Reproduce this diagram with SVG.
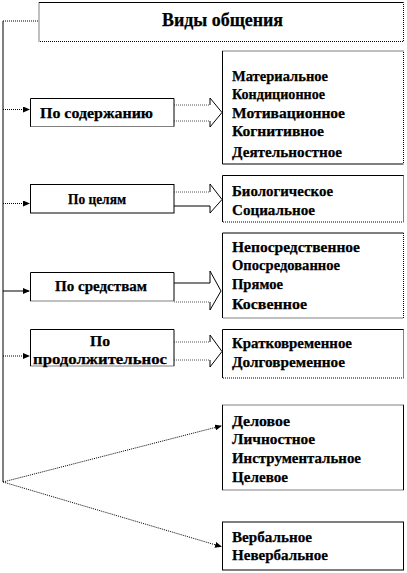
<svg xmlns="http://www.w3.org/2000/svg" width="407" height="573" viewBox="0 0 407 573">
<defs>
<style>
.bg{fill:#fff;stroke:none}
.s{fill:none;stroke:#000;stroke-width:1}
.d{fill:none;stroke:#000;stroke-width:1;stroke-dasharray:1,1}
.g{fill:none;stroke:#555;stroke-width:1;stroke-dasharray:1,1}
.t{font-family:"Liberation Serif","Times New Roman",serif;font-weight:bold;font-size:15px;fill:#000;stroke:#000;stroke-width:0.25}
.h{font-family:"Liberation Serif","Times New Roman",serif;font-weight:bold;font-size:18px;fill:#000;stroke:#000;stroke-width:0.25}
</style>
<marker id="ah" markerWidth="7" markerHeight="6" refX="6" refY="3" orient="auto" markerUnits="userSpaceOnUse">
<path d="M0,0 L7,3 L0,6 Z" fill="#000"/>
</marker>
</defs>
<rect width="407" height="573" fill="#fff"/>

<g id="connectors">
<path class="d" d="M3,21 H39"/>
<path class="s" d="M3,21 V482"/>
<path class="d" d="M3,109.5 H29" marker-end="url(#ah)"/>
<path class="d" d="M3,203.5 H29" marker-end="url(#ah)"/>
<path class="s" d="M3,291 H29" marker-end="url(#ah)"/>
<path class="d" d="M3,356 H29" marker-end="url(#ah)"/>
<path class="d" d="M3,482 L221,426" marker-end="url(#ah)"/>
<path class="d" d="M3,482 L221,546.5" marker-end="url(#ah)"/>
<g id="barrow1">
<polygon class="bg" points="174,105 210,105 210,98 222,112.5 210,127 210,121 174,121"/>
<path class="g" d="M174,105 H210 M174,121 H210"/>
<path class="s" d="M210,105 V98 L222,112.5 L210,127 V121"/>
</g>
<g id="barrow2">
<polygon class="bg" points="174,192 210,192 210,184 222,199.5 210,213 210,206 174,206"/>
<path class="g" d="M174,192 H210"/>
<path class="s" d="M174,206 H210 M210,192 V184 L222,199.5 L210,213 V206"/>
</g>
<g id="barrow3">
<polygon class="bg" points="174,283 210,283 210,271 221,291 210,310 210,302 174,302"/>
<path class="s" d="M174,283 H210 M210,283 V271 L221,291 L210,310 V302"/>
<path class="g" d="M174,302 H210"/>
</g>
<g id="barrow4">
<polygon class="bg" points="174,342 210,342 210,335 222,351.5 210,367 210,360 174,360"/>
<path class="g" d="M174,342 H210 M174,360 H210"/>
<path class="s" d="M210,342 V335 L222,351.5 L210,367 V360"/>
</g>
</g>

<g id="title">
<rect class="bg" x="39" y="2.5" width="364.5" height="39"/>
<path class="s" d="M39,2.5 H403.5"/>
<path class="d" d="M39,2.5 V41.5 H403.5 V2.5"/>
<text class="h" x="162" y="26" textLength="121" lengthAdjust="spacingAndGlyphs">Виды общения</text>
</g>

<g id="by-content">
<rect class="bg" x="30.5" y="98.5" width="143.5" height="28"/>
<path class="s" d="M30.5,126.5 V98.5 H174 V126.5"/>
<path class="d" d="M30.5,126.5 H174"/>
<text class="t" x="40" y="118" textLength="113" lengthAdjust="spacingAndGlyphs">По содержанию</text>
</g>

<g id="by-goals">
<rect class="s" style="fill:#fff" x="30.5" y="184.5" width="143.5" height="28.5"/>
<text class="t" x="68" y="204" textLength="58" lengthAdjust="spacingAndGlyphs">По целям</text>
</g>

<g id="by-means">
<rect class="bg" x="30.5" y="272.5" width="143.5" height="28.5"/>
<path class="s" d="M30.5,301 V272.5 H174 V301"/>
<path class="d" d="M30.5,301 H174"/>
<text class="t" x="55" y="290.5" textLength="92" lengthAdjust="spacingAndGlyphs">По средствам</text>
</g>

<g id="by-duration">
<rect class="bg" x="30.5" y="329.5" width="143.5" height="36.5"/>
<path class="s" d="M30.5,366 V329.5 H174 V366"/>
<path class="d" d="M30.5,366 H174"/>
<text class="t" x="90" y="346" textLength="20" lengthAdjust="spacingAndGlyphs">По</text>
<text class="t" x="33" y="363.5" textLength="134" lengthAdjust="spacingAndGlyphs">продолжительнос</text>
</g>

<g id="list-content">
<rect class="bg" x="222.5" y="51" width="181" height="113"/>
<path class="d" d="M222.5,51 H403.5 V164"/>
<path class="s" d="M222.5,51 V164 H403.5"/>
<text class="t" x="232" y="81" textLength="96" lengthAdjust="spacingAndGlyphs">Материальное</text>
<text class="t" x="232" y="99" textLength="93" lengthAdjust="spacingAndGlyphs">Кондиционное</text>
<text class="t" x="232" y="118" textLength="113" lengthAdjust="spacingAndGlyphs">Мотивационное</text>
<text class="t" x="232" y="136" textLength="92" lengthAdjust="spacingAndGlyphs">Когнитивное</text>
<text class="t" x="232" y="157" textLength="110" lengthAdjust="spacingAndGlyphs">Деятельностное</text>
</g>

<g id="list-goals">
<rect class="bg" x="222.5" y="175.5" width="181" height="46.5"/>
<path class="s" d="M222.5,222 V175.5 H403.5"/>
<path class="d" d="M403.5,175.5 V222 H222.5"/>
<text class="t" x="232" y="196" textLength="101" lengthAdjust="spacingAndGlyphs">Биологическое</text>
<text class="t" x="232" y="215" textLength="83" lengthAdjust="spacingAndGlyphs">Социальное</text>
</g>

<g id="list-means">
<rect class="bg" x="222.5" y="233" width="181" height="85"/>
<path class="s" d="M222.5,318 V233 H403.5"/>
<path class="d" d="M403.5,233 V318 H222.5"/>
<text class="t" x="232" y="251.5" textLength="128" lengthAdjust="spacingAndGlyphs">Непосредственное</text>
<text class="t" x="232" y="270" textLength="108" lengthAdjust="spacingAndGlyphs">Опосредованное</text>
<text class="t" x="232" y="289" textLength="51" lengthAdjust="spacingAndGlyphs">Прямое</text>
<text class="t" x="232" y="308.5" textLength="75" lengthAdjust="spacingAndGlyphs">Косвенное</text>
</g>

<g id="list-duration">
<rect class="bg" x="222.5" y="329.5" width="181" height="48.5"/>
<path class="s" d="M222.5,378 V329.5 H403.5"/>
<path class="d" d="M403.5,329.5 V378 H222.5"/>
<text class="t" x="232" y="348" textLength="120" lengthAdjust="spacingAndGlyphs">Кратковременное</text>
<text class="t" x="232" y="366.5" textLength="113" lengthAdjust="spacingAndGlyphs">Долговременное</text>
</g>

<g id="list-form">
<rect class="bg" x="222.5" y="405" width="181" height="85"/>
<path class="d" d="M222.5,405 H403.5 M222.5,490 H403.5"/>
<path class="s" d="M222.5,405 V490 M403.5,405 V490"/>
<text class="t" x="232" y="425.5" textLength="58" lengthAdjust="spacingAndGlyphs">Деловое</text>
<text class="t" x="232" y="443.5" textLength="83" lengthAdjust="spacingAndGlyphs">Личностное</text>
<text class="t" x="232" y="463" textLength="129" lengthAdjust="spacingAndGlyphs">Инструментальное</text>
<text class="t" x="232" y="481.5" textLength="56" lengthAdjust="spacingAndGlyphs">Целевое</text>
</g>

<g id="list-verbal">
<rect class="s" style="fill:#fff" x="222.5" y="522" width="181" height="48"/>
<text class="t" x="232" y="541.5" textLength="80" lengthAdjust="spacingAndGlyphs">Вербальное</text>
<text class="t" x="232" y="560" textLength="96" lengthAdjust="spacingAndGlyphs">Невербальное</text>
</g>
</svg>
